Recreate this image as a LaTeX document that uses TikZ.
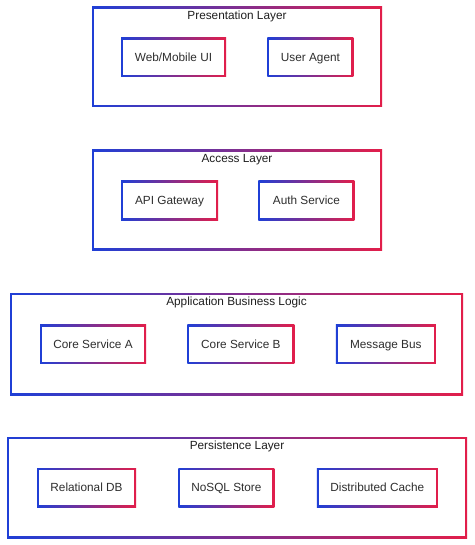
\documentclass[tikz,border=0pt]{standalone}
\usepackage{fontspec}
\setmainfont{Liberation Sans}
\usetikzlibrary{positioning}

\definecolor{gblue}{HTML}{1F3FD6}
\definecolor{gred}{HTML}{E21E4A}

\tikzset{
	gframe/.style={
		path picture={
			\shade[left color=gblue, right color=gred]
				(path picture bounding box.south west) rectangle (path picture bounding box.north east);
			\fill[white]
				([shift={(2pt,2pt)}]path picture bounding box.south west) rectangle
				([shift={(-2pt,-2pt)}]path picture bounding box.north east);
		}
	},
	comp/.style={gframe, rectangle, minimum height=39pt, inner sep=0pt,
		text height=8.4pt, text depth=0pt,
		font=\fontsize{11.8}{14}\selectfont, text=black!82},
	layer/.style={gframe, rectangle, inner sep=0pt,
		label={[anchor=north, inner sep=0pt, yshift=-4pt, text height=8.4pt, text depth=0pt,
			font=\fontsize{11.8}{14}\selectfont, text=black!88]north:#1}},
}

\begin{document}
\begin{tikzpicture}[x=1pt, y={(0pt,-1pt)}]
	\useasboundingbox (0,0) rectangle (474,545);

	% layers
	\node [layer=Presentation Layer, minimum width=290pt, minimum height=100pt] (pres) at (237,57) {};
	\node [layer=Access Layer, minimum width=290pt, minimum height=100pt] (acc) at (237,200) {};
	\node [layer=Application Business Logic, minimum width=453pt, minimum height=102pt] (app) at (236.5,344) {};
	\node [layer=Persistence Layer, minimum width=460pt, minimum height=101pt] (pers) at (237,487.5) {};

	% presentation
	\node [comp, minimum width=105pt] (web) at (173.5,57.5) {Web/Mobile UI};
	\node [comp, minimum width=86pt, right=41pt of web] (agent) {User Agent};

	% access
	\node [comp, minimum width=97pt] (gw) at (169.5,200.5) {API Gateway};
	\node [comp, minimum width=96pt, right=40pt of gw] (auth) {Auth Service};

	% application
	\node [comp, minimum width=106pt] (coreA) at (93,344) {Core Service A};
	\node [comp, minimum width=107pt, right=41pt of coreA] (coreB) {Core Service B};
	\node [comp, minimum width=100pt, right=41pt of coreB] (bus) {Message Bus};

	% persistence
	\node [comp, minimum width=99pt] (rdb) at (86.5,487.5) {Relational DB};
	\node [comp, minimum width=96pt, right=42pt of rdb] (nosql) {NoSQL Store};
	\node [comp, minimum width=121pt, right=42pt of nosql] (cache) {Distributed Cache};
\end{tikzpicture}
\end{document}
